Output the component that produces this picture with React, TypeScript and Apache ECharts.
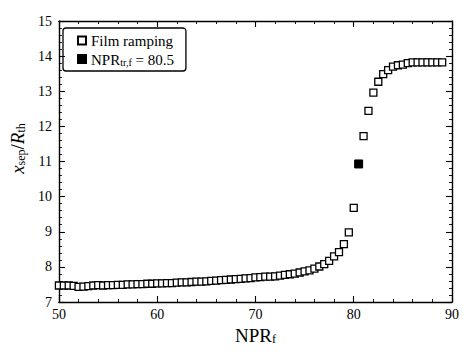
import React, { useEffect, useRef } from "react";
import * as echarts from "echarts";

const nprF = [
  50, 50.5, 51, 51.5, 52, 52.5, 53, 53.5, 54, 54.5, 55, 55.5, 56, 56.5, 57, 57.5, 58, 58.5, 59, 59.5,
  60, 60.5, 61, 61.5, 62, 62.5, 63, 63.5, 64, 64.5, 65, 65.5, 66, 66.5, 67, 67.5, 68, 68.5, 69, 69.5,
  70, 70.5, 71, 71.5, 72, 72.5, 73, 73.5, 74, 74.5, 75, 75.5, 76, 76.5, 77, 77.5, 78, 78.5, 79, 79.5,
  80, 81, 81.5, 82, 82.5, 83, 83.5, 84, 84.5, 85, 85.5, 86, 86.5, 87, 87.5, 88, 88.5, 89,
];
const xSep = [
  7.47, 7.47, 7.47, 7.46, 7.43, 7.44, 7.45, 7.47, 7.48, 7.47, 7.48, 7.48, 7.49, 7.49, 7.5, 7.5, 7.51, 7.51, 7.52, 7.52,
  7.53, 7.53, 7.54, 7.54, 7.55, 7.56, 7.56, 7.57, 7.58, 7.58, 7.59, 7.6, 7.61, 7.62, 7.63, 7.64, 7.65, 7.66, 7.67, 7.68,
  7.7, 7.71, 7.72, 7.72, 7.73, 7.75, 7.77, 7.79, 7.81, 7.84, 7.87, 7.9, 7.95, 8.01, 8.08, 8.17, 8.3, 8.42, 8.65, 8.98,
  9.68, 11.72, 12.44, 12.96, 13.27, 13.49, 13.6, 13.7, 13.74, 13.76, 13.8, 13.82, 13.82, 13.82, 13.82, 13.82, 13.82, 13.82,
];
const transitionNPR = [80.5];
const transitionXSep = [10.93];

const xTicks = { min: 50, max: 90, interval: 10 };
const yTicks = { min: 7, max: 15, interval: 1 };

const FONT = "Liberation Serif";

export default function App() {
  const ref = useRef<HTMLDivElement>(null);
  useEffect(() => {
    if (!ref.current) return;
    const chart = echarts.init(ref.current, null, { renderer: "svg" });
    const axisLine = { show: true, lineStyle: { color: "#000", width: 1.4 } };
    const tick = { show: true, inside: true, length: 6, lineStyle: { color: "#000", width: 1.1 } };
    const minor = (n: number) => ({ show: true, splitNumber: n, length: 3, lineStyle: { color: "#000", width: 0.9 } });
    const film = nprF.map((x, i) => [x, xSep[i]]);
    const trans = transitionNPR.map((x, i) => [x, transitionXSep[i]]);
    chart.setOption({
      animation: false,
      backgroundColor: "#fff",
      textStyle: { fontFamily: FONT },
      grid: { left: 55, right: 22, top: 21, bottom: 53 },
      xAxis: [
        {
          type: "value",
          min: xTicks.min,
          max: xTicks.max,
          interval: xTicks.interval,
          position: "bottom",
          axisLine,
          axisTick: tick,
          minorTick: minor(5),
          splitLine: { show: false },
          axisLabel: { color: "#000", fontFamily: FONT, fontSize: 14, margin: 5 },
          name: "{n|NPR}{s|f}",
          nameLocation: "middle",
          nameGap: 16,
          nameTextStyle: {
            fontFamily: FONT,
            rich: {
              n: { fontFamily: FONT, fontSize: 19, color: "#000", verticalAlign: "bottom" },
              s: { fontFamily: FONT, fontSize: 12, color: "#000", padding: [8, 0, 0, 0], verticalAlign: "bottom" },
            },
          },
        },
        {
          type: "value",
          min: xTicks.min,
          max: xTicks.max,
          interval: xTicks.interval,
          position: "top",
          axisLine,
          axisTick: tick,
          minorTick: minor(5),
          splitLine: { show: false },
          axisLabel: { show: false },
        },
      ],
      yAxis: [
        {
          type: "value",
          min: yTicks.min,
          max: yTicks.max,
          interval: yTicks.interval,
          position: "left",
          axisLine,
          axisTick: tick,
          minorTick: minor(5),
          splitLine: { show: false },
          axisLabel: { color: "#000", fontFamily: FONT, fontSize: 14, margin: 7 },
          name: "{i|x}{s|sep}{n|/}{i|R}{s|th}",
          nameLocation: "middle",
          nameGap: 24,
          nameRotate: 90,
          nameTextStyle: {
            fontFamily: FONT,
            padding: [0, 0, 0, 26],
            rich: {
              i: { fontFamily: FONT, fontStyle: "italic", fontSize: 19, color: "#000", verticalAlign: "bottom" },
              n: { fontFamily: FONT, fontSize: 19, color: "#000", verticalAlign: "bottom" },
              s: { fontFamily: FONT, fontSize: 12, color: "#000", padding: [8, 0, 0, 0], verticalAlign: "bottom" },
            },
          },
        },
        {
          type: "value",
          min: yTicks.min,
          max: yTicks.max,
          interval: yTicks.interval,
          position: "right",
          axisLine,
          axisTick: tick,
          minorTick: minor(5),
          splitLine: { show: false },
          axisLabel: { show: false },
        },
      ],
      legend: {
        left: 63,
        top: 28,
        orient: "vertical",
        itemWidth: 8,
        itemHeight: 8,
        itemGap: 4,
        padding: [5, 12, 4, 14],
        borderColor: "#000",
        borderWidth: 1.3,
        borderRadius: 3,
        data: [
          { name: "film", icon: "rect" },
          { name: "trans", icon: "rect" },
        ],
        formatter: (name: string) =>
          name === "film" ? "{n|Film ramping}" : "{n|NPR}{s|tr,f}{n| = 80.5}",
        textStyle: {
          color: "#000",
          fontFamily: FONT,
          fontSize: 15,
          rich: {
            n: { fontFamily: FONT, fontSize: 15, color: "#000", verticalAlign: "bottom" },
            s: { fontFamily: FONT, fontSize: 10, color: "#000", padding: [6, 0, 0, 0], verticalAlign: "bottom" },
          },
        },
      },
      series: [
        {
          name: "film",
          type: "scatter",
          data: film,
          symbol: "rect",
          symbolSize: 7,
          itemStyle: { color: "#fff", borderColor: "#000", borderWidth: 1.3, opacity: 1 },
        },
        {
          name: "trans",
          type: "scatter",
          data: trans,
          symbol: "rect",
          symbolSize: 8,
          itemStyle: { color: "#000", borderColor: "#000", borderWidth: 1, opacity: 1 },
        },
      ],
    });
    return () => chart.dispose();
  }, []);
  return (
    <div
      ref={ref}
      style={{ position: "fixed", left: 0, top: 0, width: 474, height: 355, background: "#fff" }}
    />
  );
}
